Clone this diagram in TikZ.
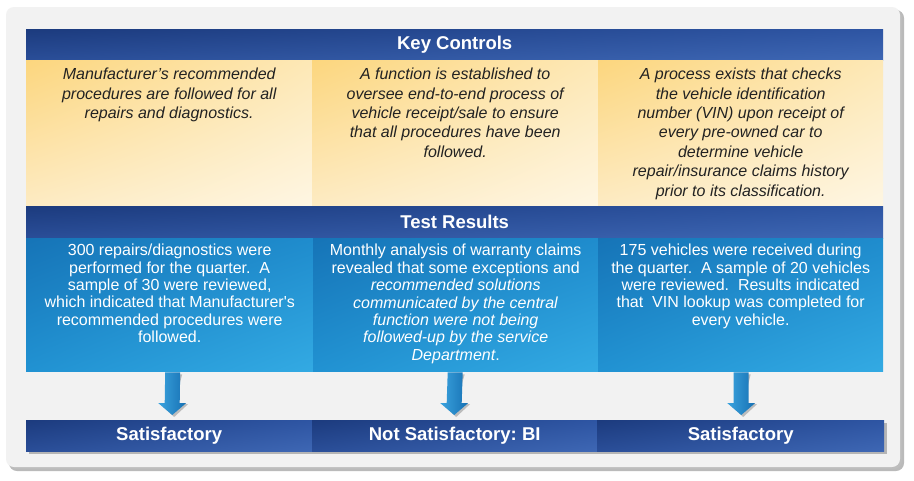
\documentclass[tikz,border=0pt]{standalone}
\usepackage{fontspec}
\setmainfont{Liberation Sans}
\usetikzlibrary{calc,shadings}
\definecolor{panel}{HTML}{F2F2F2}
\definecolor{hdA}{HTML}{1C3B7E}
\definecolor{hdB}{HTML}{2E55A3}
\definecolor{hdC}{HTML}{2A4E98}
\definecolor{hdD}{HTML}{3E67B4}
\definecolor{yA}{HTML}{FCD67E}
\definecolor{yB}{HTML}{FDE8B6}
\definecolor{yC}{HTML}{FDEBC3}
\definecolor{yD}{HTML}{FEF6E3}
\definecolor{bA}{HTML}{1674B7}
\definecolor{bB}{HTML}{1F8CCD}
\definecolor{bC}{HTML}{2192D2}
\definecolor{bD}{HTML}{33AAE3}
\definecolor{arL}{HTML}{3BA3DE}
\definecolor{arR}{HTML}{1670B3}
\definecolor{ytxt}{HTML}{222222}
\frenchspacing
\tikzset{
  hdr/.style={shade, upper left=hdA, upper right=hdB, lower left=hdC, lower right=hdD,
    anchor=north west, inner sep=0pt, text=white,
    font=\fontsize{18.5}{22}\selectfont\bfseries},
  barbox/.style={shade, upper left=hdA, upper right=hdB, lower left=hdC, lower right=hdD,
    anchor=north west, inner sep=0pt, minimum height=31, text=white,
    font=\fontsize{18.5}{22}\selectfont\bfseries},
  ycell/.style={shade, upper left=yA, upper right=yB, lower left=yC, lower right=yD,
    anchor=north west, inner sep=0pt, minimum height=146},
  bcell/.style={shade, upper left=bA, upper right=bB, lower left=bC, lower right=bD,
    anchor=north west, inner sep=0pt, minimum height=133},
  ytext/.style={anchor=north, inner sep=0pt, align=center, text=ytxt,
    font=\fontsize{16}{19.4}\selectfont\itshape},
  btext/.style={anchor=north, inner sep=0pt, align=center, text=white,
    font=\fontsize{16}{17.4}\selectfont},
  downarrow/.style={left color=arL, right color=arR},
  arshadow/.style={fill=black, opacity=0.22},
}
\begin{document}
\begin{tikzpicture}[x=1pt,y=-1pt]
\useasboundingbox (0,0) rectangle (914,480);
\fill[white] (0,0) rectangle (914,480);
% panel with shadow
\fill[black!45, rounded corners=8pt, opacity=0.6] (9,10) rectangle (904,471);
\fill[black!25, rounded corners=8pt, opacity=0.6] (8,9) rectangle (902,469);
\fill[panel, rounded corners=8pt] (6,7) rectangle (900,467);

% Key Controls header
\node[hdr, minimum width=857, minimum height=31] (kc) at (26,29) {Key Controls};
% yellow cells
\node[ycell, minimum width=286] (y1) at (26,60) {};
\node[ycell, minimum width=286] (y2) at (312,60) {};
\node[ycell, minimum width=285] (y3) at (598,60) {};
% Test Results header
\node[hdr, minimum width=857, minimum height=32] (tr) at (26,206) {Test Results};
% blue cells
\node[bcell, minimum width=287] (b1) at (26,238) {};
\node[bcell, minimum width=285] (b2) at (313,238) {};
\node[bcell, minimum width=285] (b3) at (598,238) {};

% texts of yellow cells
\node[ytext] (yt1) at ($(y1.north)+(0,8)$) {Manufacturer’s recommended\\procedures are followed for all\\repairs and diagnostics.};
\node[ytext] (yt2) at ($(y2.north)+(0,8)$) {A function is established to\\oversee end-to-end process of\\vehicle receipt/sale to ensure\\that all procedures have been\\followed.};
\node[ytext] (yt3) at ($(y3.north)+(0,8)$) {A process exists that checks\\the vehicle identification\\number (VIN) upon receipt of\\every pre-owned car to\\determine vehicle\\repair/insurance claims history\\prior to its classification.};

% texts of blue cells
\node[btext] (bt1) at ($(b1.north)+(0,6)$) {300 repairs/diagnostics were\\performed for the quarter.\ \ A\\sample of 30 were reviewed,\\which indicated that Manufacturer\textquotesingle s\\recommended procedures were\\followed.};
\node[btext] (bt2) at ($(b2.north)+(0,6)$) {Monthly analysis of warranty claims\\revealed that some exceptions and\\\textit{recommended solutions}\\\textit{communicated by the central}\\\textit{function were not being}\\\textit{followed-up by the service}\\\textit{Department}.};
\node[btext] (bt3) at ($(b3.north)+(0,6)$) {175 vehicles were received during\\the quarter.\ \ A sample of 20 vehicles\\were reviewed.\ \ Results indicated\\that\ \ VIN lookup was completed for\\every vehicle.};

% bottom bars shadow
\fill[black, opacity=0.25] (29,451) rectangle (887,454);
\fill[black, opacity=0.25] (884,423) rectangle (887,451);
% bottom bars
\node[barbox, minimum width=286] (r1) at (26,420) {Satisfactory};
\node[barbox, minimum width=285] (r2) at (312,420) {Not Satisfactory: BI};
\node[barbox, minimum width=287] (r3) at (597,420) {Satisfactory};

% arrows from result cells to ratings
\foreach \b/\r/\dx in {b1/r1/3, b2/r2/-0.5, b3/r3/0.5}{
  \coordinate (s) at ($(\b.south)+(\dx,1)$);
  \coordinate (t) at ($(\r.north)+(\dx,-5)$);
  \fill[arshadow] ($(s)+(-5.5,2)$) -- ++(15,0) -- ($(t)+(2,-11)$) -- ++(14,0) -- ($(t)+(2,2)$) -- ($(t)+(-12,-11)$) -- ++(6.5,0) -- cycle;
  \shade[downarrow] ($(s)+(-7.5,0)$) -- ++(15,0) -- ($(t)+(7.5,-12)$) -- ++(6.5,0) -- (t) -- ($(t)+(-14,-12)$) -- ++(6.5,0) -- cycle;
}
\end{tikzpicture}
\end{document}
